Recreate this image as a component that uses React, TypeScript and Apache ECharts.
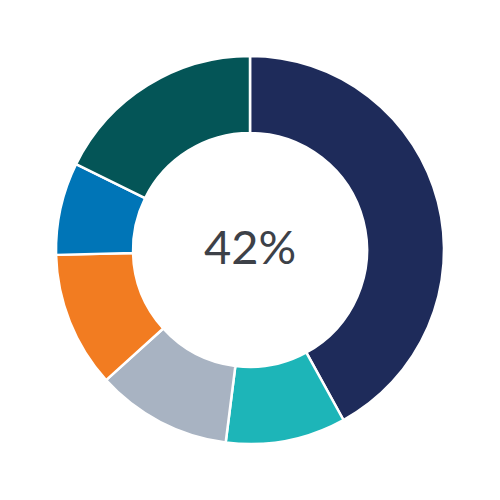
import React, { useEffect, useRef } from "react";
import * as echarts from "echarts";

const categories = ["A", "B", "C", "D", "E", "F"];
const values = [42, 10, 11.3, 11.3, 7.7, 17.7];
const colors = ["#1e2b5a", "#1db5b8", "#a8b3c2", "#f27c21", "#0075b7", "#045557"];
const centerLabel = "42%";

const App: React.FC = () => {
  const chartRef = useRef<HTMLDivElement>(null);

  useEffect(() => {
    document.body.style.margin = "0";
    if (!chartRef.current) return;

    const chart = echarts.init(chartRef.current, undefined, { renderer: "svg" });

    const option: echarts.EChartsOption = {
      animation: false,
      color: colors,
      graphic: [
        {
          type: "text",
          x: 250,
          y: 246,
          style: {
            text: centerLabel,
            fontFamily: "Lato",
            fontWeight: "normal",
            fontSize: 47,
            fill: "#3d4148",
            align: "center",
            verticalAlign: "middle",
          },
        },
      ],
      series: [
        {
          type: "pie",
          center: [250, 250],
          radius: [117, 194],
          startAngle: 90,
          clockwise: true,
          label: { show: false },
          labelLine: { show: false },
          itemStyle: {
            borderColor: "#ffffff",
            borderWidth: 2.5,
          },
          data: categories.map((name, i) => ({ name, value: values[i] })),
        },
      ],
    };

    chart.setOption(option);

    return () => {
      chart.dispose();
    };
  }, []);

  return <div ref={chartRef} style={{ width: "500px", height: "500px" }} />;
};

export default App;
